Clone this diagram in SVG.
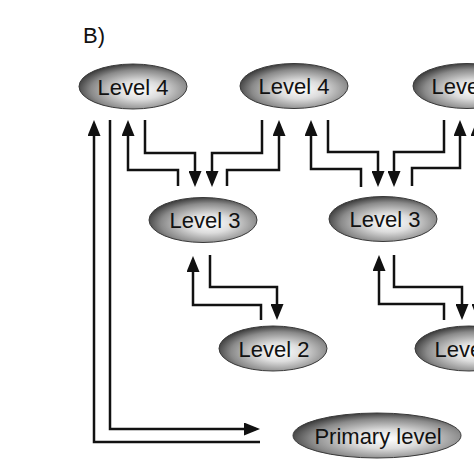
<svg xmlns="http://www.w3.org/2000/svg" width="474" height="474" viewBox="0 0 474 474">
<style>
.node ellipse{fill:url(#g);stroke:#3a3a3a;stroke-width:1}
.node text{font-family:"Liberation Sans",Arial,sans-serif;font-size:22px;fill:#111;text-anchor:middle}
.conn path{fill:none;stroke:#111;stroke-width:2.5;marker-end:url(#ah)}
.title{font-family:"Liberation Sans",Arial,sans-serif;font-size:22px;fill:#111}
</style>
<defs>
<radialGradient id="g" cx="0.56" cy="0.58" r="0.6">
<stop offset="0" stop-color="#ffffff"/>
<stop offset="0.35" stop-color="#dcdcdc"/>
<stop offset="0.75" stop-color="#8a8a8a"/>
<stop offset="1" stop-color="#383838"/>
</radialGradient>
<marker id="ah" markerUnits="userSpaceOnUse" viewBox="0 0 16 13" refX="12" refY="6.5" markerWidth="16" markerHeight="13" orient="auto">
<path d="M0,0 L16,6.5 L0,13 z" fill="#111"/>
</marker>
</defs>
<rect width="474" height="474" fill="#fff"/>
<text class="title" x="83" y="43">B)</text>
<g class="conn" id="connectors">
<path d="M178,186 V170 H128 V124"/>
<path d="M145,120 V153 H195 V183"/>
<path d="M262,120 V153 H212 V183"/>
<path d="M227,186 V170 H279 V124"/>
<path d="M361,187 V169 H311 V124"/>
<path d="M328,120 V152 H378 V183"/>
<path d="M444,120 V152 H394 V183"/>
<path d="M412,186 V168 H460 V124"/>
<path d="M525,186 V168 H477 V124"/>
<path d="M261,320 V305 H193 V260"/>
<path d="M210,255 V287 H277 V316"/>
<path d="M444,320 V304 H379 V259"/>
<path d="M394,255 V287 H462 V316"/>
<path d="M545,255 V287 H478 V316"/>
<path d="M260,442 H94 V124"/>
<path d="M110,120 V429 H256"/>
</g>
<g class="node" id="level4a"><ellipse cx="133" cy="86.5" rx="54" ry="22.5"/><text x="133" y="94.5">Level 4</text></g>
<g class="node" id="level4b"><ellipse cx="294" cy="86" rx="54" ry="22.5"/><text x="294" y="94">Level 4</text></g>
<g class="node" id="level4c"><ellipse cx="467" cy="86" rx="54" ry="22.5"/><text x="467" y="94">Level 4</text></g>
<g class="node" id="level3a"><ellipse cx="203" cy="220" rx="54" ry="22.5"/><text x="205" y="228">Level 3</text></g>
<g class="node" id="level3b"><ellipse cx="383" cy="219" rx="54" ry="22.5"/><text x="385" y="227">Level 3</text></g>
<g class="node" id="level2a"><ellipse cx="273" cy="348.5" rx="54" ry="22.5"/><text x="274" y="356.5">Level 2</text></g>
<g class="node" id="level2b"><ellipse cx="469" cy="348.5" rx="54" ry="22.5"/><text x="470" y="356.5">Level 2</text></g>
<g class="node" id="primary"><ellipse cx="377" cy="435.5" rx="84" ry="22.5"/><text x="378" y="443.5">Primary level</text></g>
</svg>
